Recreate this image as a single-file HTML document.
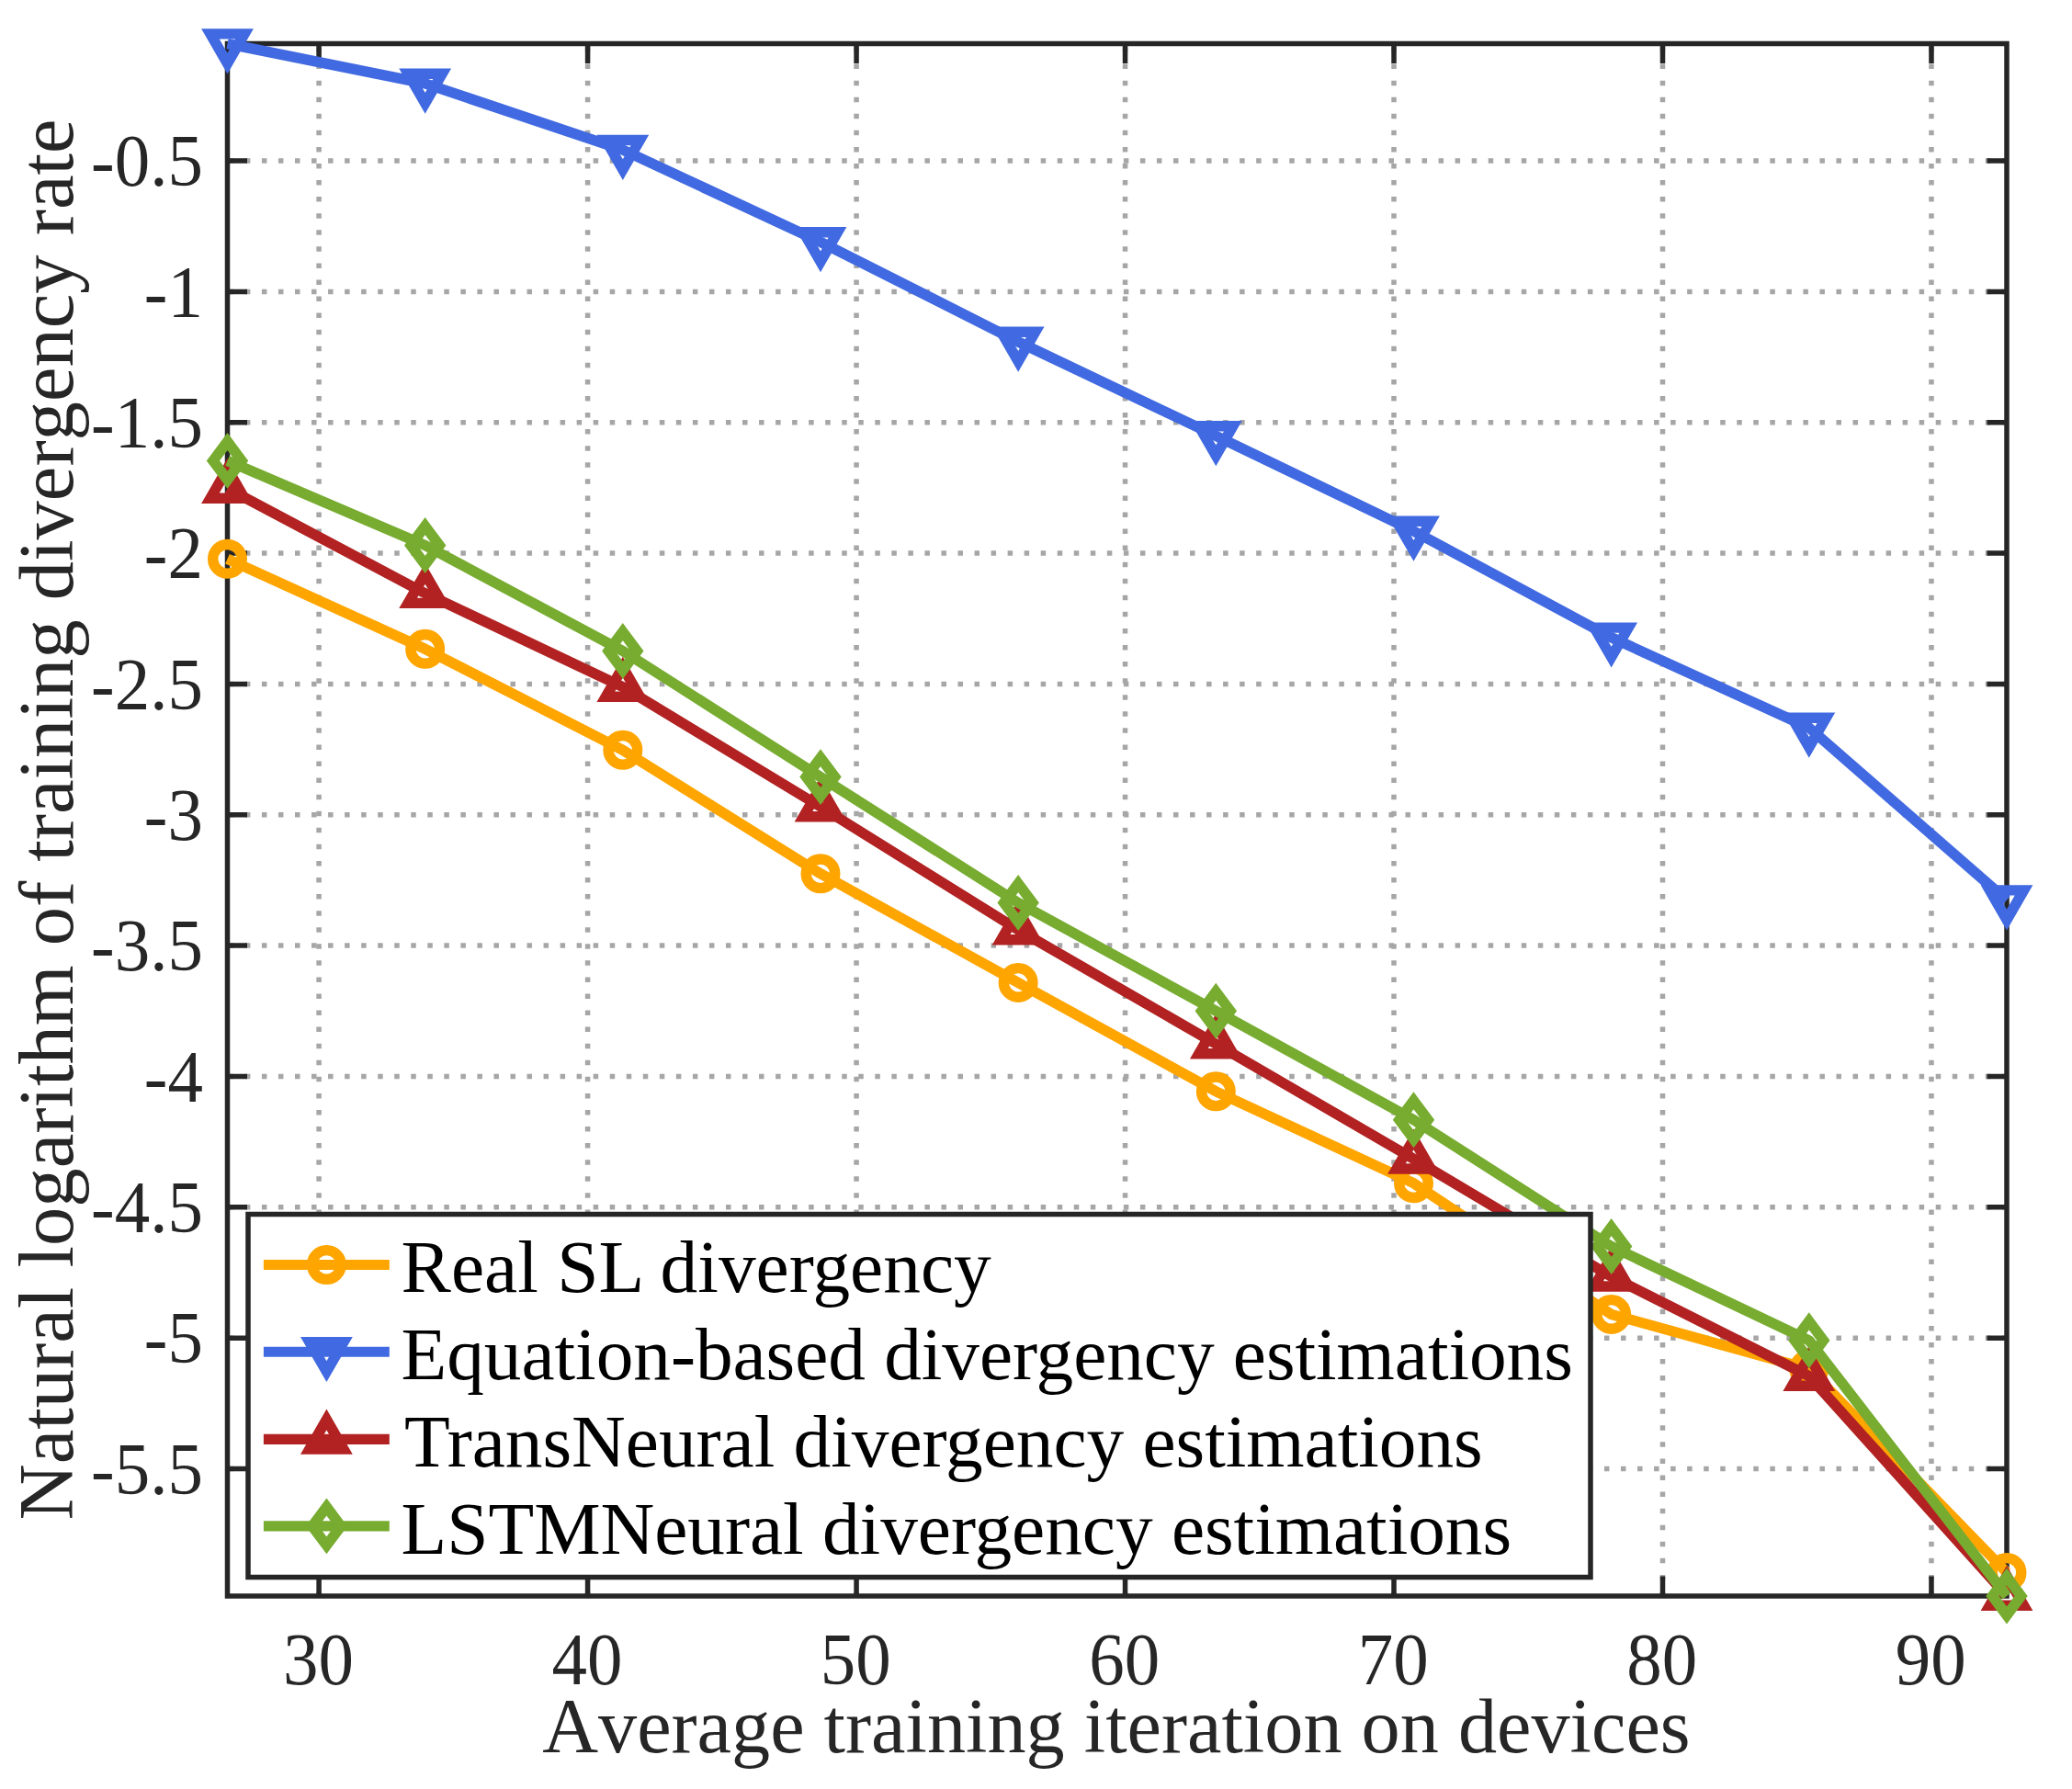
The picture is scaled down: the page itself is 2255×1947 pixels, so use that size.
<!DOCTYPE html>
<html lang="en"><head><meta charset="utf-8"><title>Training divergency chart</title>
<style>html,body{margin:0;padding:0;background:#fff}text{font-kerning:none;font-variant-ligatures:none}g.kern text{font-kerning:normal}body{width:2255px;height:1947px;overflow:hidden}</style>
</head><body>
<svg width="2255" height="1947" viewBox="0 0 2255 1947" style="display:block">
<rect width="2255" height="1947" fill="#fff"/>
<g stroke="#a6a6a6" stroke-width="5.5" fill="none">
<path stroke-dasharray="5.5 12.5700" d="M347.10 1737.50V47.50"/>
<path stroke-dasharray="5.5 12.5700" d="M639.58 1737.50V47.50"/>
<path stroke-dasharray="5.5 12.5700" d="M932.06 1737.50V47.50"/>
<path stroke-dasharray="5.5 12.5700" d="M1224.54 1737.50V47.50"/>
<path stroke-dasharray="5.5 12.5700" d="M1517.02 1737.50V47.50"/>
<path stroke-dasharray="5.5 12.5700" d="M1809.50 1737.50V47.50"/>
<path stroke-dasharray="5.5 12.5700" d="M2101.98 1737.50V47.50"/>
<path stroke-dasharray="5.5 12.5375" d="M248.85 175.05H2184.00"/>
<path stroke-dasharray="5.5 12.5375" d="M248.85 317.39H2184.00"/>
<path stroke-dasharray="5.5 12.5375" d="M248.85 459.73H2184.00"/>
<path stroke-dasharray="5.5 12.5375" d="M248.85 602.08H2184.00"/>
<path stroke-dasharray="5.5 12.5375" d="M248.85 744.43H2184.00"/>
<path stroke-dasharray="5.5 12.5375" d="M248.85 886.77H2184.00"/>
<path stroke-dasharray="5.5 12.5375" d="M248.85 1029.12H2184.00"/>
<path stroke-dasharray="5.5 12.5375" d="M248.85 1171.46H2184.00"/>
<path stroke-dasharray="5.5 12.5375" d="M248.85 1313.81H2184.00"/>
<path stroke-dasharray="5.5 12.5375" d="M248.85 1456.15H2184.00"/>
<path stroke-dasharray="5.5 12.5375" d="M248.85 1598.50H2184.00"/>
</g>
<g stroke="#262626" stroke-width="5.5" fill="none">
<rect x="247.5" y="47.5" width="1936.5" height="1689.5"/>
<path d="M347.10 1737.0v-21.5M347.10 47.5v21.5M639.58 1737.0v-21.5M639.58 47.5v21.5M932.06 1737.0v-21.5M932.06 47.5v21.5M1224.54 1737.0v-21.5M1224.54 47.5v21.5M1517.02 1737.0v-21.5M1517.02 47.5v21.5M1809.50 1737.0v-21.5M1809.50 47.5v21.5M2101.98 1737.0v-21.5M2101.98 47.5v21.5M247.5 175.05h21.5M2184.0 175.05h-21.5M247.5 317.39h21.5M2184.0 317.39h-21.5M247.5 459.73h21.5M2184.0 459.73h-21.5M247.5 602.08h21.5M2184.0 602.08h-21.5M247.5 744.43h21.5M2184.0 744.43h-21.5M247.5 886.77h21.5M2184.0 886.77h-21.5M247.5 1029.12h21.5M2184.0 1029.12h-21.5M247.5 1171.46h21.5M2184.0 1171.46h-21.5M247.5 1313.81h21.5M2184.0 1313.81h-21.5M247.5 1456.15h21.5M2184.0 1456.15h-21.5M247.5 1598.50h21.5M2184.0 1598.50h-21.5"/>
</g>
<g stroke="#ffa500" stroke-width="11.4" fill="none" stroke-linejoin="miter" stroke-miterlimit="10">
<polyline points="247.50,608.30 462.67,706.30 677.83,816.30 893.00,950.80 1108.17,1069.40 1323.33,1187.80 1538.50,1287.70 1753.67,1430.40 1968.83,1490.00 2184.00,1711.40" stroke-linejoin="round"/>
<circle cx="247.50" cy="608.30" r="15.8"/>
<circle cx="462.67" cy="706.30" r="15.8"/>
<circle cx="677.83" cy="816.30" r="15.8"/>
<circle cx="893.00" cy="950.80" r="15.8"/>
<circle cx="1108.17" cy="1069.40" r="15.8"/>
<circle cx="1323.33" cy="1187.80" r="15.8"/>
<circle cx="1538.50" cy="1287.70" r="15.8"/>
<circle cx="1753.67" cy="1430.40" r="15.8"/>
<circle cx="1968.83" cy="1490.00" r="15.8"/>
<circle cx="2184.00" cy="1711.40" r="15.8"/>
</g>
<g stroke="#4169e1" stroke-width="11.4" fill="none" stroke-linejoin="miter" stroke-miterlimit="10">
<polyline points="247.50,47.60 462.67,90.90 677.83,163.20 893.00,263.40 1108.17,372.00 1323.33,474.40 1538.50,578.00 1753.67,693.80 1968.83,792.00 2184.00,979.60" stroke-linejoin="round"/>
<path d="M228.97 36.90H266.03L247.50 69.00Z"/>
<path d="M444.14 80.20H481.20L462.67 112.30Z"/>
<path d="M659.30 152.50H696.36L677.83 184.60Z"/>
<path d="M874.47 252.70H911.53L893.00 284.80Z"/>
<path d="M1089.64 361.30H1126.70L1108.17 393.40Z"/>
<path d="M1304.80 463.70H1341.86L1323.33 495.80Z"/>
<path d="M1519.97 567.30H1557.03L1538.50 599.40Z"/>
<path d="M1735.14 683.10H1772.20L1753.67 715.20Z"/>
<path d="M1950.30 781.30H1987.36L1968.83 813.40Z"/>
<path d="M2165.47 968.90H2202.53L2184.00 1001.00Z"/>
</g>
<g stroke="#b22222" stroke-width="11.4" fill="none" stroke-linejoin="miter" stroke-miterlimit="10">
<polyline points="247.50,531.50 462.67,645.70 677.83,747.60 893.00,878.00 1108.17,1012.00 1323.33,1136.10 1538.50,1261.30 1753.67,1389.30 1968.83,1497.60 2184.00,1736.60" stroke-linejoin="round"/>
<path d="M228.97 542.20H266.03L247.50 510.10Z"/>
<path d="M444.14 656.40H481.20L462.67 624.30Z"/>
<path d="M659.30 758.30H696.36L677.83 726.20Z"/>
<path d="M874.47 888.70H911.53L893.00 856.60Z"/>
<path d="M1089.64 1022.70H1126.70L1108.17 990.60Z"/>
<path d="M1304.80 1146.80H1341.86L1323.33 1114.70Z"/>
<path d="M1519.97 1272.00H1557.03L1538.50 1239.90Z"/>
<path d="M1735.14 1400.00H1772.20L1753.67 1367.90Z"/>
<path d="M1950.30 1508.30H1987.36L1968.83 1476.20Z"/>
<path d="M2165.47 1747.30H2202.53L2184.00 1715.20Z"/>
</g>
<g stroke="#77ac30" stroke-width="11.4" fill="none" stroke-linejoin="miter" stroke-miterlimit="10">
<polyline points="247.50,501.40 462.67,593.50 677.83,708.50 893.00,845.60 1108.17,982.50 1323.33,1100.20 1538.50,1218.70 1753.67,1356.50 1968.83,1458.80 2184.00,1737.00" stroke-linejoin="round"/>
<path d="M247.50 480.50L263.10 501.40L247.50 522.30L231.90 501.40Z"/>
<path d="M462.67 572.60L478.27 593.50L462.67 614.40L447.07 593.50Z"/>
<path d="M677.83 687.60L693.43 708.50L677.83 729.40L662.23 708.50Z"/>
<path d="M893.00 824.70L908.60 845.60L893.00 866.50L877.40 845.60Z"/>
<path d="M1108.17 961.60L1123.77 982.50L1108.17 1003.40L1092.57 982.50Z"/>
<path d="M1323.33 1079.30L1338.93 1100.20L1323.33 1121.10L1307.73 1100.20Z"/>
<path d="M1538.50 1197.80L1554.10 1218.70L1538.50 1239.60L1522.90 1218.70Z"/>
<path d="M1753.67 1335.60L1769.27 1356.50L1753.67 1377.40L1738.07 1356.50Z"/>
<path d="M1968.83 1437.90L1984.43 1458.80L1968.83 1479.70L1953.23 1458.80Z"/>
<path d="M2184.00 1716.10L2199.60 1737.00L2184.00 1757.90L2168.40 1737.00Z"/>
</g>
<rect x="270.0" y="1321.5" width="1461.00" height="395.00" fill="#fff" stroke="#262626" stroke-width="5.5"/>
<g stroke="#ffa500" stroke-width="11.4" fill="none" stroke-miterlimit="10"><path stroke-width="11.1" d="M286.9 1376.45H423.8"/><circle cx="355.40" cy="1376.45" r="15.8"/></g>
<g stroke="#4169e1" stroke-width="11.4" fill="none" stroke-miterlimit="10"><path stroke-width="11.1" d="M286.9 1471.3H423.8"/><path d="M336.87 1460.60H373.93L355.40 1492.70Z"/></g>
<g stroke="#b22222" stroke-width="11.4" fill="none" stroke-miterlimit="10"><path stroke-width="11.1" d="M286.9 1566.4H423.8"/><path d="M336.87 1577.10H373.93L355.40 1545.00Z"/></g>
<g stroke="#77ac30" stroke-width="11.4" fill="none" stroke-miterlimit="10"><path stroke-width="11.1" d="M286.9 1660.9H423.8"/><path d="M355.40 1640.00L371.00 1660.90L355.40 1681.80L339.80 1660.90Z"/></g>
<g font-family="'Liberation Serif', 'Times New Roman', serif" font-size="81.4" fill="#000" class="kern">
<text x="436.6" y="1406.15" textLength="642.2" lengthAdjust="spacing">Real SL divergency</text>
<text x="436.6" y="1501.00" textLength="1275.3" lengthAdjust="spacing">Equation-based divergency estimations</text>
<text x="439.9" y="1596.10" textLength="1173.9" lengthAdjust="spacing">TransNeural divergency estimations</text>
<text x="436.6" y="1690.60" textLength="1208.6" lengthAdjust="spacing">LSTMNeural divergency estimations</text>
</g>
<g font-family="'Liberation Serif', 'Times New Roman', serif" font-size="77" fill="#262626">
<text transform="translate(346.40 1833.3) scale(1 1.035)" text-anchor="middle">30</text>
<text transform="translate(638.88 1833.3) scale(1 1.035)" text-anchor="middle">40</text>
<text transform="translate(931.36 1833.3) scale(1 1.035)" text-anchor="middle">50</text>
<text transform="translate(1223.84 1833.3) scale(1 1.035)" text-anchor="middle">60</text>
<text transform="translate(1516.32 1833.3) scale(1 1.035)" text-anchor="middle">70</text>
<text transform="translate(1808.80 1833.3) scale(1 1.035)" text-anchor="middle">80</text>
<text transform="translate(2101.28 1833.3) scale(1 1.035)" text-anchor="middle">90</text>
<text transform="translate(221 202.35) scale(1 1.035)" text-anchor="end">-0.5</text>
<text transform="translate(221 344.69) scale(1 1.035)" text-anchor="end">-1</text>
<text transform="translate(221 487.03) scale(1 1.035)" text-anchor="end">-1.5</text>
<text transform="translate(221 629.38) scale(1 1.035)" text-anchor="end">-2</text>
<text transform="translate(221 771.73) scale(1 1.035)" text-anchor="end">-2.5</text>
<text transform="translate(221 914.07) scale(1 1.035)" text-anchor="end">-3</text>
<text transform="translate(221 1056.41) scale(1 1.035)" text-anchor="end">-3.5</text>
<text transform="translate(221 1198.76) scale(1 1.035)" text-anchor="end">-4</text>
<text transform="translate(221 1341.11) scale(1 1.035)" text-anchor="end">-4.5</text>
<text transform="translate(221 1483.45) scale(1 1.035)" text-anchor="end">-5</text>
<text transform="translate(221 1625.80) scale(1 1.035)" text-anchor="end">-5.5</text>
</g>
<g font-family="'Liberation Serif', 'Times New Roman', serif" font-size="84.63" fill="#262626">
<text x="1214.9" y="1907.1" font-size="84.28" text-anchor="middle">Average training iteration on devices</text>
<text transform="translate(78.6 891.9) rotate(-90)" text-anchor="middle">Natural logarithm of training divergency rate</text>
</g>
</svg>
</body></html>
